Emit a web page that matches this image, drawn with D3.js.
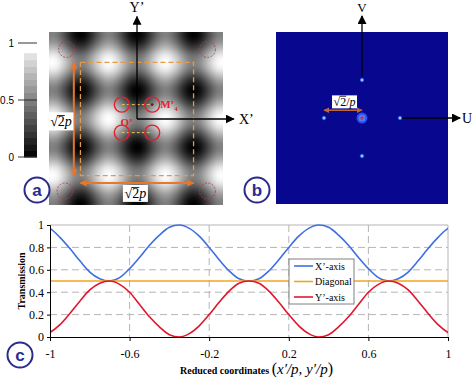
<!DOCTYPE html>
<html>
<head>
<meta charset="utf-8">
<script src="https://cdn.jsdelivr.net/npm/d3@7"></script>
<style>
  body { margin: 0; background: #fff; }
  svg { display: block; }
</style>
</head>
<body>
<div id="fig"></div>
<script>
// reduced coordinates x'/p (or y'/p) at which the profiles are read
const coords = [-1.1, -1.05, -1, -0.95, -0.9, -0.85, -0.8, -0.75, -0.7, -0.65, -0.6, -0.55, -0.5, -0.45, -0.4, -0.35, -0.3, -0.25, -0.2, -0.15, -0.1, -0.05,
  0, 0.05, 0.1, 0.15, 0.2, 0.25, 0.3, 0.35, 0.4, 0.45, 0.5, 0.55, 0.6, 0.65, 0.7, 0.75, 0.8, 0.85, 0.9, 0.95, 1, 1.05, 1.1];
// transmission along X'
const xAxisT = [0.99, 1.00, 0.97, 0.89, 0.79, 0.68, 0.58, 0.52, 0.50, 0.53, 0.61, 0.71, 0.82, 0.91, 0.98, 1.00, 0.97, 0.90, 0.80, 0.69, 0.59, 0.52,
  0.50, 0.52, 0.59, 0.69, 0.80, 0.90, 0.97, 1.00, 0.98, 0.91, 0.82, 0.71, 0.61, 0.53, 0.50, 0.52, 0.58, 0.68, 0.79, 0.89, 0.97, 1.00, 0.99];
// transmission along Y'
const yAxisT = [0.02, 0.00, 0.04, 0.11, 0.21, 0.32, 0.42, 0.48, 0.50, 0.47, 0.40, 0.29, 0.18, 0.09, 0.02, 0.00, 0.03, 0.10, 0.20, 0.31, 0.41, 0.48,
  0.50, 0.48, 0.41, 0.31, 0.20, 0.10, 0.03, 0.00, 0.02, 0.09, 0.18, 0.29, 0.40, 0.47, 0.50, 0.48, 0.42, 0.32, 0.21, 0.11, 0.04, 0.00, 0.02];
// transmission along the diagonal
const diagCoords = [-1.1, 1.1];
const diagT = [0.5, 0.5];

const seriesNames = ["X\u2019-axis", "Diagonal", "Y\u2019-axis"];
const seriesColors = ["#3e6fe0", "#f5a31e", "#e0172c"];

const xTicks = [-1, -0.6, -0.2, 0.2, 0.6, 1];
const yTicks = [0, 0.2, 0.4, 0.6, 0.8, 1];
const colorbarTicks = [0, 0.5, 1];
// Fourier peaks (u, v) in units of 1/p
const peaks = [[-1.414, 0], [1.414, 0], [0, 1.414], [0, -1.414]];

const W = 474, H = 377;
const serif = "'Liberation Serif','Times New Roman',serif";
const sans = "'Liberation Sans',Arial,sans-serif";
const navy = "#2b2b8c";

const svg = d3.select("#fig").append("svg")
    .attr("width", W).attr("height", H)
    .style("background", "#fff");

const defs = svg.append("defs");
function marker(id, color, size) {
    defs.append("marker")
        .attr("id", id)
        .attr("viewBox", "0 0 10 10")
        .attr("refX", 9).attr("refY", 5)
        .attr("markerWidth", size).attr("markerHeight", size)
        .attr("markerUnits", "userSpaceOnUse")
        .attr("orient", "auto-start-reverse")
        .append("path").attr("d", "M0,0L10,5L0,10z").attr("fill", color);
}
marker("ah-black", "#000", 9);
marker("ah-orange", "#e8762d", 7);
marker("ah-brown", "#c0643a", 6);

// profile lookups (piecewise linear between the read points)
const fX = d3.scaleLinear().domain(coords).range(xAxisT).clamp(true);
const fY = d3.scaleLinear().domain(coords).range(yAxisT).clamp(true);

// ---------- panel a : intensity map ----------
const pa = 80, ox = 137, oy = 119;
const ax = d3.scaleLinear().domain([-1, 1]).range([ox - pa, ox + pa]);
const ay = d3.scaleLinear().domain([-1, 1]).range([oy + pa, oy - pa]);
const img = { x: 49, y: 32, w: 174, h: 173 };

const cv = document.createElement("canvas");
cv.width = img.w; cv.height = img.h;
const ctx = cv.getContext("2d");
const im = ctx.createImageData(img.w, img.h);
for (let j = 0; j < img.h; j++) {
    const yv = fY(ay.invert(img.y + j + 0.5));
    for (let i = 0; i < img.w; i++) {
        let v = fX(ax.invert(img.x + i + 0.5)) + yv - 0.5;
        v = Math.max(0, Math.min(1, v));
        const g = Math.round(255 * v);
        const k = 4 * (j * img.w + i);
        im.data[k] = g; im.data[k + 1] = g; im.data[k + 2] = g; im.data[k + 3] = 255;
    }
}
ctx.putImageData(im, 0, 0);
const pa_g = svg.append("g");
pa_g.append("image")
    .attr("x", img.x).attr("y", img.y)
    .attr("width", img.w).attr("height", img.h)
    .attr("preserveAspectRatio", "none")
    .attr("href", cv.toDataURL());

// colorbar
const cb = d3.scaleLinear().domain([0, 1]).range([157, 43]);
const nBands = 16, cbTop = 0.91;
const bands = d3.range(nBands).map(k => k * cbTop / nBands);
pa_g.selectAll(".cb").data(bands).enter().append("rect")
    .attr("x", 24).attr("width", 13)
    .attr("y", d => cb(d + cbTop / nBands))
    .attr("height", d => cb(d) - cb(d + cbTop / nBands) + 0.5)
    .attr("fill", d => d3.interpolateRgb("#000", "#fff")(d + cbTop / nBands / 2));
pa_g.selectAll(".cbt").data(colorbarTicks).enter().append("line")
    .attr("x1", 18).attr("x2", 37)
    .attr("y1", d => cb(d)).attr("y2", d => cb(d))
    .attr("stroke", "#333").attr("stroke-width", 1);
pa_g.selectAll(".cbl").data(colorbarTicks).enter().append("text")
    .attr("x", 14).attr("y", d => cb(d) + 3.5)
    .attr("text-anchor", "end")
    .style("font-family", sans).style("font-size", "10px")
    .text(d => d);

// dashed cell square
const half = 0.707;
pa_g.append("rect")
    .attr("x", ax(-half)).attr("y", ay(half))
    .attr("width", ax(half) - ax(-half)).attr("height", ay(-half) - ay(half))
    .attr("fill", "none").attr("stroke", "#e39a45")
    .attr("stroke-width", 1.3).attr("stroke-dasharray", "5,3");

// corner circles
const corners = [[-0.88, 0.87], [0.88, 0.87], [-0.9, -0.9], [0.88, -0.9]];
pa_g.selectAll(".corner").data(corners).enter().append("circle")
    .attr("cx", d => ax(d[0])).attr("cy", d => ay(d[1])).attr("r", 8)
    .attr("fill", "none").attr("stroke", "#b43a4c")
    .attr("stroke-width", 1).attr("stroke-dasharray", "2,1.5").attr("opacity", 0.85);

// small red circles round O'
const nearO = [[-0.19, 0.18], [0.19, 0.18], [-0.19, -0.17], [0.19, -0.17]];
[0.18, -0.17].forEach(v => {
    pa_g.append("line")
        .attr("x1", ax(-0.19)).attr("x2", ax(0.19))
        .attr("y1", ay(v)).attr("y2", ay(v))
        .attr("stroke", "#e6c15a").attr("stroke-width", 1).attr("stroke-dasharray", "3,2");
});
pa_g.selectAll(".nearO").data(nearO).enter().append("circle")
    .attr("cx", d => ax(d[0])).attr("cy", d => ay(d[1])).attr("r", 7.5)
    .attr("fill", "none").attr("stroke", "#e5202c").attr("stroke-width", 1.4);
pa_g.append("circle").attr("cx", ax(0.19)).attr("cy", ay(0.18)).attr("r", 1.3).attr("fill", "#7a1010");

// axes X', Y'
pa_g.append("line")
    .attr("x1", ax(0)).attr("y1", ay(0)).attr("x2", ax(0)).attr("y2", ay(1.28))
    .attr("stroke", "#000").attr("stroke-width", 1.3).attr("marker-end", "url(#ah-black)");
pa_g.append("line")
    .attr("x1", ax(0)).attr("y1", ay(0)).attr("x2", ax(1.21)).attr("y2", ay(0))
    .attr("stroke", "#000").attr("stroke-width", 1.3).attr("marker-end", "url(#ah-black)");
pa_g.append("text").attr("x", ax(0)).attr("y", 12).attr("text-anchor", "middle")
    .style("font-family", serif).style("font-size", "14px").text("Y\u2019");
pa_g.append("text").attr("x", 239).attr("y", 124)
    .style("font-family", serif).style("font-size", "14px").text("X\u2019");

pa_g.append("text").attr("x", ax(-0.13)).attr("y", ay(-0.09)).attr("text-anchor", "middle")
    .style("font-family", serif).style("font-size", "11px").style("font-weight", "bold")
    .attr("fill", "#e5202c").text("O\u2019");
const mText = pa_g.append("text").attr("x", ax(0.29)).attr("y", ay(0.14))
    .style("font-family", serif).style("font-size", "11px").style("font-weight", "bold")
    .attr("fill", "#e5202c");
mText.append("tspan").text("M\u2019");
mText.append("tspan").attr("dy", 3).style("font-size", "7px").text("4");

// √2 p arrows
pa_g.append("line")
    .attr("x1", ax(-0.79)).attr("x2", ax(-0.79))
    .attr("y1", ay(half)).attr("y2", ay(-half))
    .attr("stroke", "#e8762d").attr("stroke-width", 2)
    .attr("marker-start", "url(#ah-orange)").attr("marker-end", "url(#ah-orange)");
pa_g.append("line")
    .attr("x1", ax(-half)).attr("x2", ax(half))
    .attr("y1", ay(-0.8)).attr("y2", ay(-0.8))
    .attr("stroke", "#e8762d").attr("stroke-width", 2)
    .attr("marker-start", "url(#ah-orange)").attr("marker-end", "url(#ah-orange)");

function sqrtLabel(g, cx, cy, parts, fs, bw, bh) {
    g.append("rect").attr("x", cx - bw / 2).attr("y", cy - bh / 2)
        .attr("width", bw).attr("height", bh).attr("fill", "#fff");
    const t = g.append("text").attr("x", cx).attr("y", cy + fs * 0.35)
        .attr("text-anchor", "middle")
        .style("font-family", serif).style("font-size", fs + "px");
    t.append("tspan").text("\u221A2");
    parts.forEach(p => t.append("tspan").style("font-style", p.italic ? "italic" : "normal").text(p.s));
    const e = t.node().getExtentOfChar(1);
    const e0 = t.node().getExtentOfChar(0);
    g.append("line")
        .attr("x1", e0.x + e0.width - 0.5).attr("x2", e.x + e.width)
        .attr("y1", e0.y + 1.2).attr("y2", e0.y + 1.2)
        .attr("stroke", "#000").attr("stroke-width", 0.8);
}
sqrtLabel(pa_g, ax(-0.95), ay(-0.03), [{ s: "p", italic: true }], 14, 25, 18);
sqrtLabel(pa_g, ax(-0.02), ay(-0.93), [{ s: "p", italic: true }], 14, 25, 17);

// ---------- panel b : Fourier plane ----------
const us = d3.scaleLinear().domain([-3.2, 3.2]).range([276, 448]);
const vs = d3.scaleLinear().domain([-3.2, 3.2]).range([204, 32]);
const pb = svg.append("g");
pb.append("rect").attr("x", us(-3.2)).attr("y", vs(3.2))
    .attr("width", us(3.2) - us(-3.2)).attr("height", vs(-3.2) - vs(3.2))
    .attr("fill", "#07078f");

const glow = defs.append("radialGradient").attr("id", "glow");
glow.append("stop").attr("offset", "0%").attr("stop-color", "#e8f4ff");
glow.append("stop").attr("offset", "40%").attr("stop-color", "#5aa8ff");
glow.append("stop").attr("offset", "100%").attr("stop-color", "#07078f").attr("stop-opacity", 0);

pb.append("circle").attr("cx", us(0)).attr("cy", vs(0)).attr("r", 5.5).attr("fill", "#2a4cf0");
pb.append("circle").attr("cx", us(0)).attr("cy", vs(0)).attr("r", 3.5).attr("fill", "#4a7cff");
pb.append("path")
    .attr("d", `M${us(0) - 2},${vs(0)}h4M${us(0)},${vs(0) - 2}v4`)
    .attr("stroke", "#e02020").attr("stroke-width", 1);
pb.selectAll(".peak").data(peaks).enter().append("circle")
    .attr("cx", d => us(d[0])).attr("cy", d => vs(d[1])).attr("r", 3)
    .attr("fill", "url(#glow)");

pb.append("line")
    .attr("x1", us(0)).attr("y1", vs(1.55)).attr("x2", us(0)).attr("y2", vs(3.8))
    .attr("stroke", "#000").attr("stroke-width", 1.3).attr("marker-end", "url(#ah-black)");
pb.append("line")
    .attr("x1", us(1.5)).attr("y1", vs(0)).attr("x2", us(3.65)).attr("y2", vs(0))
    .attr("stroke", "#000").attr("stroke-width", 1.3).attr("marker-end", "url(#ah-black)");
pb.append("text").attr("x", us(0)).attr("y", 12).attr("text-anchor", "middle")
    .style("font-family", serif).style("font-size", "13px").text("V");
pb.append("text").attr("x", 462).attr("y", vs(0) + 5)
    .style("font-family", serif).style("font-size", "14px").text("U");

pb.append("line")
    .attr("x1", us(-1.414)).attr("x2", us(0))
    .attr("y1", vs(0.29)).attr("y2", vs(0.29))
    .attr("stroke", "#c0643a").attr("stroke-width", 1.5)
    .attr("marker-start", "url(#ah-brown)").attr("marker-end", "url(#ah-brown)");
sqrtLabel(pb, us(-0.65), vs(0.6), [{ s: "/", italic: false }, { s: "p", italic: true }], 12, 25, 13);

// panel letters
[["a", 37, 190], ["b", 257, 190], ["c", 20, 355]].forEach(([s, cx, cy]) => {
    svg.append("circle").attr("cx", cx).attr("cy", cy).attr("r", 12.5)
        .attr("fill", "#fff").attr("stroke", navy).attr("stroke-width", 2);
    svg.append("text").attr("x", cx).attr("y", cy + 6).attr("text-anchor", "middle")
        .style("font-family", sans).style("font-size", "17px").style("font-weight", "bold")
        .attr("fill", navy).text(s);
});

// ---------- panel c : transmission profiles ----------
const plot = { left: 50, right: 448, top: 225, bottom: 337 };
const x = d3.scaleLinear().domain([-1, 1]).range([plot.left, plot.right]);
const y = d3.scaleLinear().domain([0, 1]).range([plot.bottom, plot.top]);
const pc = svg.append("g");

defs.append("clipPath").attr("id", "plotclip").append("rect")
    .attr("x", plot.left).attr("y", plot.top - 2)
    .attr("width", plot.right - plot.left).attr("height", plot.bottom - plot.top + 4);

// frame
pc.append("path")
    .attr("d", `M${plot.left},${plot.top}H${plot.right}V${plot.bottom}`)
    .attr("fill", "none").attr("stroke", "#b5b5b5");

// grid
pc.selectAll(".hg").data(yTicks.filter(d => d > 0 && d < 1)).enter().append("line")
    .attr("x1", plot.left).attr("x2", plot.right)
    .attr("y1", d => y(d)).attr("y2", d => y(d))
    .attr("stroke", "#b5b5b5").attr("stroke-dasharray", "7,4");
pc.selectAll(".vg").data(xTicks.filter(d => d > -1 && d < 1)).enter().append("line")
    .attr("y1", plot.top).attr("y2", plot.bottom)
    .attr("x1", d => x(d)).attr("x2", d => x(d))
    .attr("stroke", "#b5b5b5").attr("stroke-dasharray", "7,4");

// curves
const line = d3.line().x(d => x(d[0])).y(d => y(d[1])).curve(d3.curveMonotoneX);
const series = [
    coords.map((c, i) => [c, xAxisT[i]]),
    diagCoords.map((c, i) => [c, diagT[i]]),
    coords.map((c, i) => [c, yAxisT[i]])
];
pc.append("g").attr("clip-path", "url(#plotclip)")
    .selectAll("path").data(series).enter().append("path")
    .attr("d", line)
    .attr("fill", "none")
    .attr("stroke", (d, i) => seriesColors[i])
    .attr("stroke-width", 1.6);

// axes
const yAx = pc.append("g").attr("transform", `translate(${plot.left},0)`)
    .call(d3.axisLeft(y).tickValues(yTicks).tickSize(3).tickPadding(3).tickFormat(d => String(d)));
const xAx = pc.append("g").attr("transform", `translate(0,${plot.bottom})`)
    .call(d3.axisBottom(x).tickValues(xTicks).tickSize(4).tickPadding(8).tickFormat(d => String(d)));
[yAx, xAx].forEach(a => {
    a.selectAll("text").style("font-family", serif).style("font-size", "12px").attr("fill", "#000");
    a.selectAll("line, path").attr("stroke", "#000");
});

pc.append("text")
    .attr("transform", `translate(25,${(plot.top + plot.bottom) / 2}) rotate(-90)`)
    .attr("text-anchor", "middle")
    .style("font-family", serif).style("font-size", "10px").style("font-weight", "bold")
    .text("Transmission");

const xl = pc.append("text").attr("x", 180).attr("y", 374)
    .style("font-family", serif).style("font-size", "10px");
xl.append("tspan").style("font-weight", "bold").text("Reduced coordinates ");
xl.append("tspan").style("font-size", "16px").text("(");
xl.append("tspan").style("font-size", "15px").style("font-style", "italic").text("x\u2032/p, y\u2032/p");
xl.append("tspan").style("font-size", "16px").text(")");

// legend
const lg = pc.append("g");
lg.append("rect").attr("x", 289).attr("y", 259).attr("width", 65).attr("height", 45)
    .attr("fill", "#fff").attr("stroke", "#808080");
seriesNames.forEach((s, i) => {
    const ly = 266 + i * 15.5;
    lg.append("line").attr("x1", 294).attr("x2", 313).attr("y1", ly).attr("y2", ly)
        .attr("stroke", seriesColors[i]).attr("stroke-width", 1.6);
    lg.append("text").attr("x", 315).attr("y", ly + 3.5)
        .style("font-family", serif).style("font-size", "10px").text(s);
});
</script>
</body>
</html>
